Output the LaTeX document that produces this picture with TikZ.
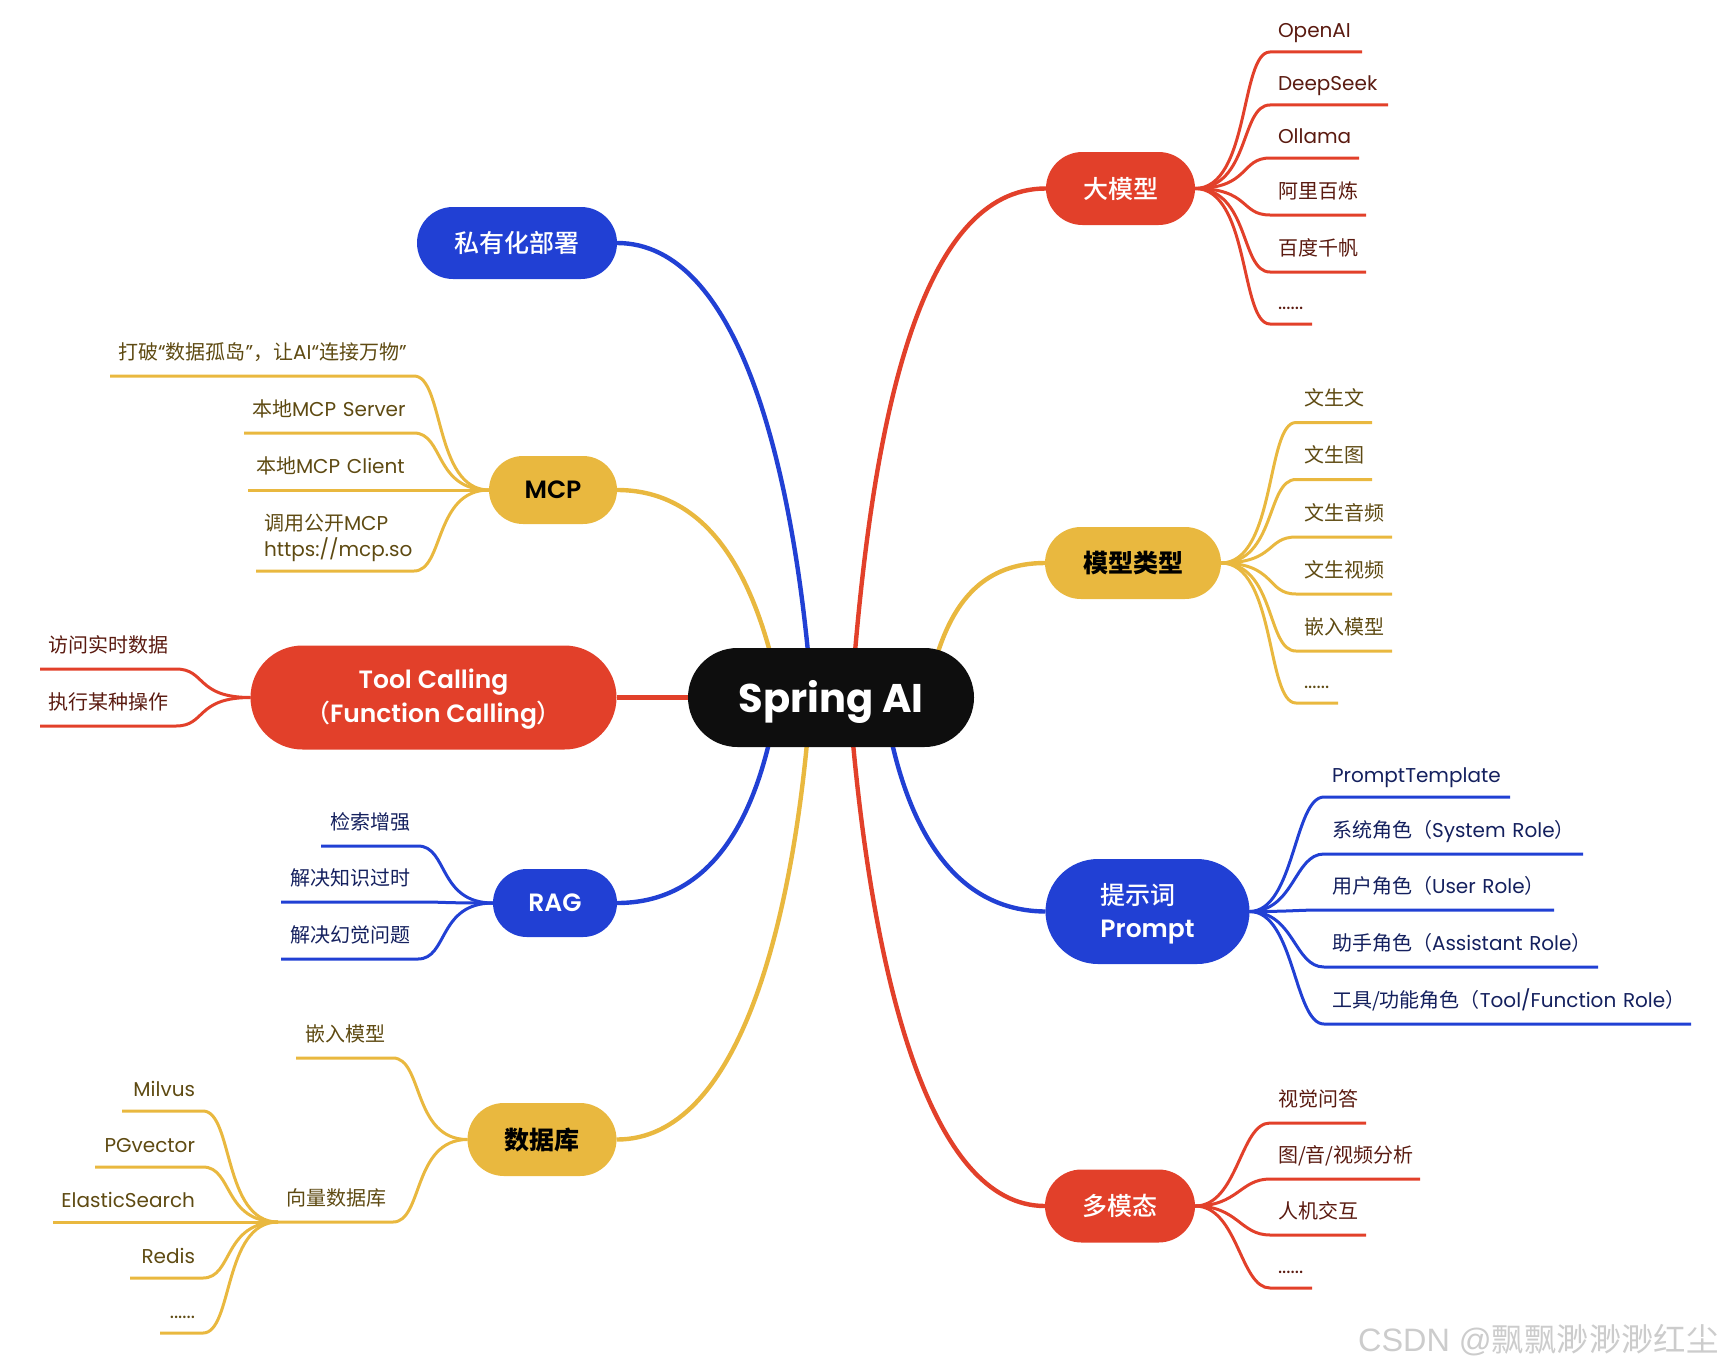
\documentclass[tikz,border=0pt]{standalone}
\usepackage{fontspec}
\setmainfont{Poppins}[BoldFont={Poppins SemiBold}]
\newfontfamily\rootfont{Poppins}
\newfontfamily\cjk{Noto Sans CJK SC}
\newfontfamily\cjkm{Noto Sans CJK SC Medium}[BoldFont={Noto Sans CJK SC Medium}]
\newfontfamily\markfont{Liberation Sans}
\usetikzlibrary{shapes.misc}
\usetikzlibrary{backgrounds}
\definecolor{cred}{HTML}{E2402A}
\definecolor{cyel}{HTML}{E9B83F}
\definecolor{cblu}{HTML}{2140D4}
\definecolor{cblk}{HTML}{0E0E0E}
\definecolor{tred}{HTML}{5A1A10}
\definecolor{tyel}{HTML}{5E4A12}
\definecolor{tblu}{HTML}{14205E}
\newcommand{\moredots}{......}
\newcommand{\zh}[1]{{\cjk #1}\rule[-5pt]{0pt}{0pt}}
\tikzset{
  pill/.style={rounded rectangle,inner sep=0pt,outer sep=0pt,align=center,
    font=\fontsize{12.5}{16.5}\selectfont\bfseries},
  leaf/.style={inner xsep=4pt,inner ysep=3.4pt,outer sep=0pt,
    font=\fontsize{10}{13}\selectfont,execute at end node=\strut},
  leafr/.style={leaf,anchor=south west,align=left},
  leafl/.style={leaf,anchor=south east,align=right},
  branch/.style={line width=2.2pt},
  twig/.style={line width=1.5pt}
}
\begin{document}
\begin{tikzpicture}[x=0.5pt,y=-0.5pt]
  \useasboundingbox (0,0) rectangle (1722,1370);
  % centre and first level
  \node[pill,fill=cblk,text=white,minimum width=143pt,minimum height=49.5pt,text height=20pt,text depth=5.5pt,font=\rootfont\fontsize{20}{25}\selectfont\bfseries] (root) at (831,697.5) {Spring AI};
  \node[pill,fill=cred,text=white,minimum width=74.5pt,minimum height=36.5pt] (dmx) at (1120.5,188.5) {\cjkm 大模型};
  \node[pill,fill=cyel,text=black,minimum width=88pt,minimum height=36pt] (lx) at (1133,563) {\cjk 模型类型};
  \node[pill,fill=cblu,text=white,minimum width=102pt,minimum height=52.5pt,align=left] (prompt) at (1147.5,911.5) {\rule{0pt}{13.2pt}{\cjkm 提示词}\\Prompt};
  \node[pill,fill=cred,text=white,minimum width=75pt,minimum height=36.5pt] (dmt) at (1120,1206) {\cjkm 多模态};
  \node[pill,fill=cblu,text=white,minimum width=100pt,minimum height=36pt] (syh) at (517,243) {\cjkm 私有化部署};
  \node[pill,fill=cyel,text=black,minimum width=64pt,minimum height=34pt] (mcp) at (553,490) {MCP};
  \node[pill,fill=cred,text=white,minimum width=183pt,minimum height=52pt,font=\fontsize{12.5}{17}\selectfont\bfseries] (tool) at (433.5,697.5) {\rule{0pt}{11.5pt}Tool Calling\\{\cjkm （}Function Calling{\cjkm ）}};
  \node[pill,fill=cblu,text=white,minimum width=62pt,minimum height=34pt] (rag) at (555,903) {RAG};
  \node[pill,fill=cyel,text=black,minimum width=74.5pt,minimum height=36.5pt] (sjk) at (542,1139.5) {\cjk 数据库};
  \node[text=black!20,font=\markfont\fontsize{16.2}{20}\selectfont,anchor=east,inner sep=0pt] (mark) at (1719,1340) {CSDN @{\cjk 飘飘渺渺渺红尘}};
  % leaves, right side
  \foreach \nm/\y/\xe/\txt in {openai/52/1362/OpenAI,deepseek/105/1388/DeepSeek,ollama/158/1359/Ollama,
      ali/215/1366/{\zh{阿里百炼}},baidu/272/1366/{\zh{百度千帆}},dots1/324/1312/\moredots}{
    \node[leafr,text=tred,text width={(\xe-1270)*0.5pt-8pt}] (\nm) at (1270,\y) {\txt};
    \begin{pgfonlayer}{background}
      \draw[twig,cred] (dmx.east) .. controls +(55,0) and +(-30,0) .. (\nm.south west) -- (\nm.south east);
    \end{pgfonlayer}
  }
  \foreach \nm/\y/\xe/\txt in {wzw/422.5/1372/{\zh{文生文}},wzt/479.5/1372/{\zh{文生图}},wzy/537/1392/{\zh{文生音频}},
      wzs/594/1392/{\zh{文生视频}},qrm/651/1392/{\zh{嵌入模型}},dots2/703/1338/\moredots}{
    \node[leafr,text=tyel,text width={(\xe-1296)*0.5pt-8pt}] (\nm) at (1296,\y) {\txt};
    \begin{pgfonlayer}{background}
      \draw[twig,cyel] (lx.east) .. controls +(55,0) and +(-30,0) .. (\nm.south west) -- (\nm.south east);
    \end{pgfonlayer}
  }
  \foreach \nm/\y/\xe/\txt in {ptpl/797/1510/PromptTemplate,sysr/854/1583/{\zh{系统角色（}System~Role{\cjk ）}},
      user/910/1554/{\zh{用户角色（}User~Role{\cjk ）}},asst/967/1598/{\zh{助手角色（}Assistant~Role{\cjk ）}},
      func/1024/1691/{\zh{工具/功能角色（}Tool/Function~Role{\cjk ）}}}{
    \node[leafr,text=tblu,text width={(\xe-1324)*0.5pt-8pt}] (\nm) at (1324,\y) {\txt};
    \begin{pgfonlayer}{background}
      \draw[twig,cblu] (prompt.east) .. controls +(45,0) and +(-30,0) .. (\nm.south west) -- (\nm.south east);
    \end{pgfonlayer}
  }
  \foreach \nm/\y/\xe/\txt in {sjwd/1123/1366/{\zh{视觉问答}},tysp/1179/1420/{\zh{图/音/视频分析}},
      rjjh/1235/1366/{\zh{人机交互}},dots3/1288/1312/\moredots}{
    \node[leafr,text=tred,text width={(\xe-1270)*0.5pt-8pt}] (\nm) at (1270,\y) {\txt};
    \begin{pgfonlayer}{background}
      \draw[twig,cred] (dmt.east) .. controls +(43,0) and +(-30,0) .. (\nm.south west) -- (\nm.south east);
    \end{pgfonlayer}
  }
  % leaves, left side
  \foreach \nm/\y/\xs/\txt in {dapo/376/110/{\zh{打破}“{\cjk 数据孤岛}”{\cjk ，让}AI“{\cjk 连接万物}”},
      serv/433/244/{\zh{本地}MCP~Server},clnt/490/248/{\zh{本地}MCP~Client},
      pub/571/256/{{\cjk 调用公开}MCP\\https://mcp.so}}{
    \node[leafl,text=tyel,text width={(414-\xs)*0.5pt-8pt},align=left] (\nm) at (414,\y) {\txt};
    \begin{pgfonlayer}{background}
      \draw[twig,cyel] (mcp.west) .. controls +(-55,0) and +(30,0) .. (\nm.south east) -- (\nm.south west);
    \end{pgfonlayer}
  }
  \foreach \nm/\y/\txt in {fwss/669/{\zh{访问实时数据}},zxcz/726/{\zh{执行某种操作}}}{
    \node[leafl,text=tred,text width={(176-40)*0.5pt-8pt}] (\nm) at (176,\y) {\txt};
    \begin{pgfonlayer}{background}
      \draw[twig,cred] (tool.west) .. controls +(-55,0) and +(30,0) .. (\nm.south east) -- (\nm.south west);
    \end{pgfonlayer}
  }
  \foreach \nm/\y/\xs/\txt in {jszq/846/321/{\zh{检索增强}},zsgs/902/281/{\zh{解决知识过时}},hjwt/959/281/{\zh{解决幻觉问题}}}{
    \node[leafl,text=tblu,text width={(418-\xs)*0.5pt-8pt}] (\nm) at (418,\y) {\txt};
    \begin{pgfonlayer}{background}
      \draw[twig,cblu] (rag.west) .. controls +(-55,0) and +(30,0) .. (\nm.south east) -- (\nm.south west);
    \end{pgfonlayer}
  }
  \foreach \nm/\y/\xs/\txt in {qrmx/1058/296/{\zh{嵌入模型}},vec/1222/278/{\zh{向量数据库}}}{
    \node[leafl,text=tyel,text width={(393-\xs)*0.5pt-8pt}] (\nm) at (393,\y) {\txt};
    \begin{pgfonlayer}{background}
      \draw[twig,cyel] (sjk.west) .. controls +(-55,0) and +(30,0) .. (\nm.south east) -- (\nm.south west);
    \end{pgfonlayer}
  }
  \foreach \nm/\y/\xs/\txt in {milvus/1111/122/Milvus,pgv/1167/95/PGvector,es/1222/53/ElasticSearch,
      redis/1278/130/Redis,dots4/1333/160/\moredots}{
    \node[leafl,text=tyel,text width={(203-\xs)*0.5pt-8pt}] (\nm) at (203,\y) {\txt};
    \begin{pgfonlayer}{background}
      \draw[twig,cyel] (vec.south west) .. controls +(-55,0) and +(30,0) .. (\nm.south east) -- (\nm.south west);
    \end{pgfonlayer}
  }
  % connectors to the centre
  \coordinate (r1) at (808,652);
  \coordinate (r2) at (770,652);
  \coordinate (r3) at (769,743);
  \coordinate (r4) at (807,743);
  \coordinate (r5) at (855,652);
  \coordinate (r6) at (938,652);
  \coordinate (r7) at (892,743);
  \coordinate (r8) at (853,743);
  \begin{pgfonlayer}{background}
    \draw[branch,cblu] (syh.east) .. controls (740,243) and (790,470) .. (r1);
    \draw[branch,cyel] (mcp.east) .. controls (700,490) and (745,560) .. (r2);
    \draw[branch,cred] (tool.east) -- (root.west);
    \draw[branch,cblu] (rag.east) .. controls (705,903) and (748,830) .. (r3);
    \draw[branch,cyel] (sjk.east) .. controls (740,1140) and (790,920) .. (r4);
    \draw[branch,cred] (dmx.west) .. controls (920,188) and (875,420) .. (r5);
    \draw[branch,cyel] (lx.west) .. controls (985,563) and (955,600) .. (r6);
    \draw[branch,cblu] (prompt.west) .. controls (955,911) and (912,830) .. (r7);
    \draw[branch,cred] (dmt.west) .. controls (930,1206) and (875,980) .. (r8);
  \end{pgfonlayer}
\end{tikzpicture}
\end{document}
